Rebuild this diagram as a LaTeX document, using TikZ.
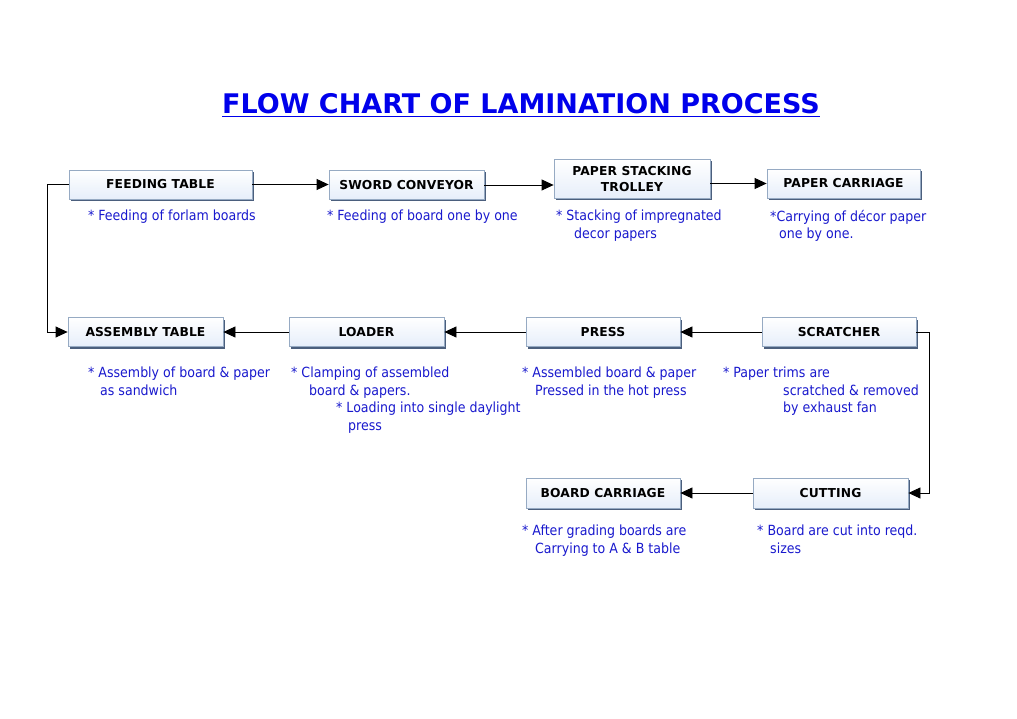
\documentclass[tikz,border=0pt]{standalone}
\usepackage{fontspec}
\setmainfont{DejaVu Sans Condensed}
\newfontfamily\stagefont[LetterSpace=1]{DejaVu Sans}
\newfontfamily\titlefont{DejaVu Sans}
\usetikzlibrary{arrows.meta,shadows}
\definecolor{titleblue}{RGB}{0,0,235}
\definecolor{descblue}{RGB}{25,25,205}
\definecolor{boxline}{RGB}{150,170,195}
\definecolor{boxfill}{RGB}{230,238,250}
\definecolor{boxshadow}{RGB}{75,95,125}
\tikzset{
  stage/.style={draw=boxline, line width=0.8pt, top color=white, bottom color=boxfill,
    minimum width=155pt, minimum height=29pt, inner sep=1pt, align=center,
    font=\stagefont\fontsize{12.3}{16.5}\selectfont\bfseries,
    drop shadow={shadow xshift=2pt, shadow yshift=-2pt, fill=boxshadow, opacity=1}},
  note/.style={anchor=north west, inner sep=0pt, align=left, text=descblue,
    font=\fontsize{14}{17.5}\selectfont},
  flow/.style={line width=0.8pt, -{Triangle[length=12pt,width=11pt]}}
}
\begin{document}
\begin{tikzpicture}[x=1pt, y=-1pt]
\useasboundingbox (0,0) rectangle (1017,719);
\node[text=titleblue, font=\titlefont\fontsize{27}{30}\selectfont\bfseries, anchor=base] (title) at (521,114) {\underline{FLOW CHART OF LAMINATION PROCESS}};
% first row
\node[stage, minimum width=183pt] (feed) at (160.5,184.5) {FEEDING TABLE};
\node[stage] (sword) at (406.5,185) {SWORD CONVEYOR};
\node[stage, minimum width=156pt, minimum height=39pt] (stack) at (632,179) {PAPER STACKING\\TROLLEY};
\node[stage, minimum width=153pt] (pcarr) at (843.5,183.5) {PAPER CARRIAGE};
\node[note] (nfeed) at (88,210) {* Feeding of forlam boards};
\node[note] (nsword) at (327,210) {* Feeding of board one by one};
\node[note] (nstack) at (556,210) {* Stacking of impregnated\\\hspace*{18pt}decor papers};
\node[note] (npcarr) at (770,210) {*Carrying of décor paper\\\hspace*{9pt}one by one.};
% second row
\node[stage] (assy) at (145.5,332) {ASSEMBLY TABLE};
\node[stage] (loader) at (366.5,332) {LOADER};
\node[stage, minimum width=154pt] (press) at (603,332) {PRESS};
\node[stage, minimum width=154pt] (scratch) at (839,332) {SCRATCHER};
\node[note] (nassy) at (88,367) {* Assembly of board \& paper\\\hspace*{12pt}as sandwich};
\node[note] (nloader) at (291,367) {* Clamping of assembled\\\hspace*{18pt}board \& papers.\\\hspace*{45pt}* Loading into single daylight\\\hspace*{57pt}press};
\node[note] (npress) at (522,367) {* Assembled board \& paper\\\hspace*{13pt}Pressed in the hot press};
\node[note] (nscratch) at (723,367) {* Paper trims are\\\hspace*{60pt}scratched \& removed\\\hspace*{60pt}by exhaust fan};
% third row
\node[stage, minimum width=154pt, minimum height=30pt] (bcarr) at (603,493) {BOARD CARRIAGE};
\node[stage, minimum height=30pt] (cut) at (830.5,493) {CUTTING};
\node[note] (nbcarr) at (522,525) {* After grading boards are\\\hspace*{13pt}Carrying to A \& B table};
\node[note] (ncut) at (757,525) {* Board are cut into reqd.\\\hspace*{13pt}sizes};
% connectors
\draw[flow] (feed.east) -- (sword.west |- feed.east);
\draw[flow] (sword.east) -- (stack.west |- sword.east);
\draw[flow] (stack.east |- pcarr.west) -- (pcarr.west);
\draw[flow] (feed.west) -- ++(-21,0) |- (assy.west);
\draw[flow] (scratch.west) -- (press.east);
\draw[flow] (press.west) -- (loader.east);
\draw[flow] (loader.west) -- (assy.east);
\draw[flow] (scratch.east) -- ++(13,0) |- (cut.east);
\draw[flow] (cut.west) -- (bcarr.east);
\end{tikzpicture}
\end{document}
